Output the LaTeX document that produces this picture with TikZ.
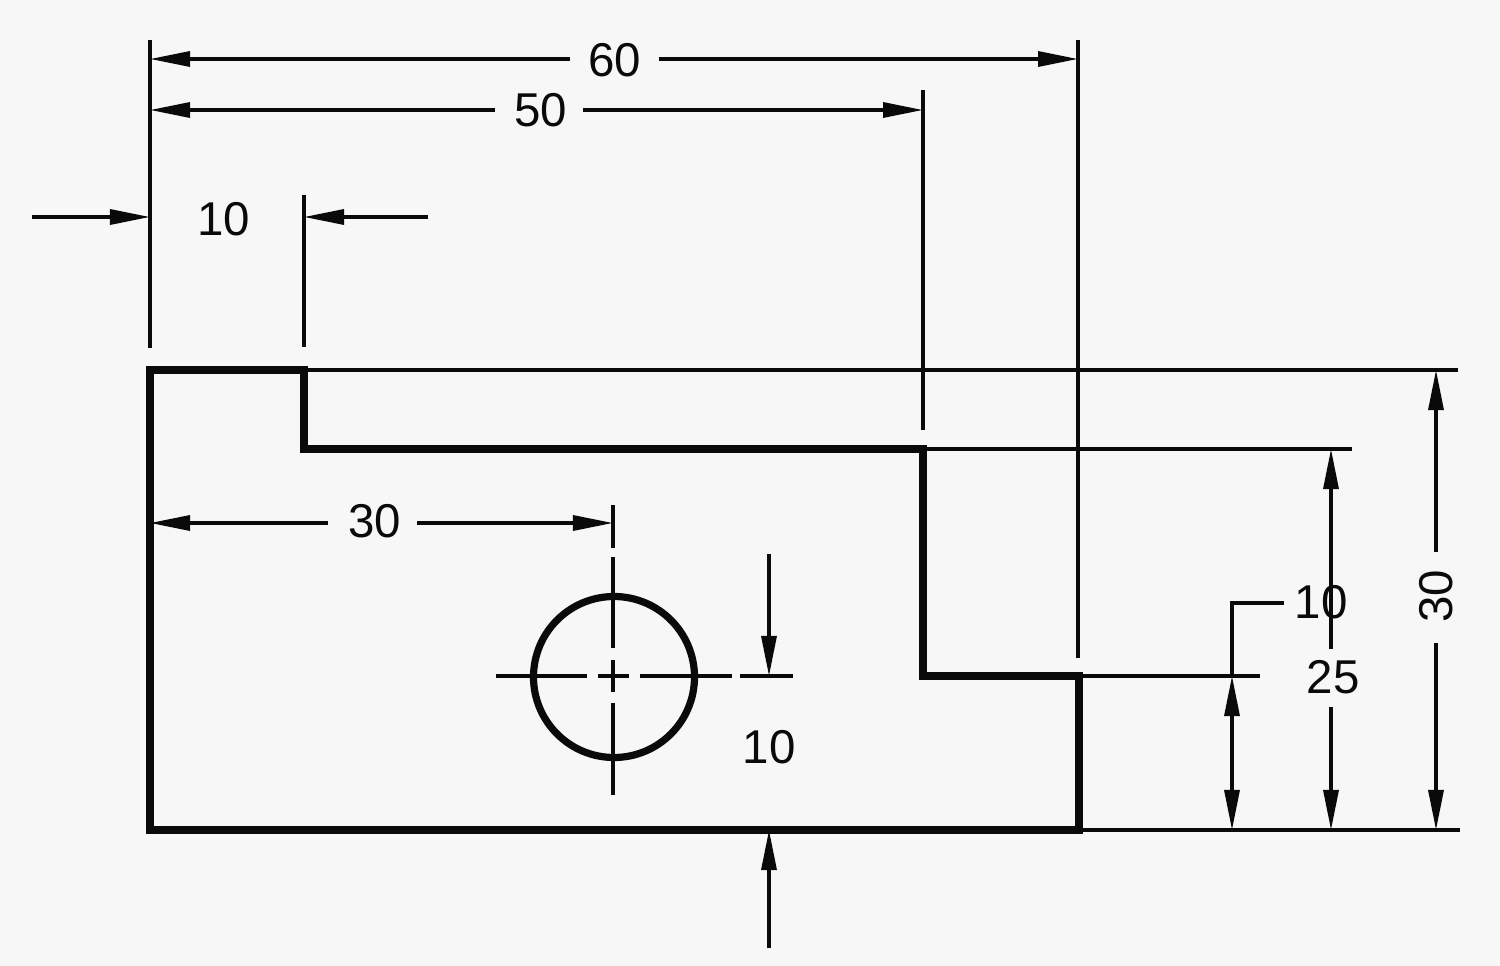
\documentclass[tikz,border=0pt]{standalone}
\usepackage{fontspec}
\setmainfont{Liberation Sans}
\usetikzlibrary{arrows.meta}
\definecolor{bgc}{RGB}{247,247,247}
\definecolor{ink}{RGB}{10,10,10}
\tikzset{
 x=0.04cm,y=-0.04cm,
 thin line/.style={draw=ink,line width=3.7pt},
 thick line/.style={draw=ink,line width=8.2pt,line cap=butt,line join=miter},
 dimarrow/.style={thin line,-{Triangle[length=1.6cm,width=0.6cm]}},
 dim/.style={thin line,{Triangle[length=1.6cm,width=0.6cm]}-{Triangle[length=1.6cm,width=0.6cm]}},
 lbl/.style={font=\fontsize{54pt}{54pt}\selectfont,text=ink,inner sep=0pt},
}
\begin{document}
\begin{tikzpicture}
\path[use as bounding box,fill=bgc] (0,0) rectangle (1500,966);
% outline
\draw[thick line] (150,830) -- (150,370) -- (304,370) -- (304,449) -- (923,449) -- (923,676) -- (1079,676) -- (1079,830) -- cycle;
\draw[thick line] (614,677) circle (80.5);
% extension lines
\draw[thin line] (150,40) -- (150,348);
\draw[thin line] (304,195) -- (304,347);
\draw[thin line] (923,90) -- (923,430);
\draw[thin line] (1078,40) -- (1078,658);
\draw[thin line] (304,370) -- (1458,370);
\draw[thin line] (923,449) -- (1352,449);
\draw[thin line] (1079,676) -- (1260,676);
\draw[thin line] (1079,830) -- (1460,830);
% labels
\node[lbl] (n60) at (615,60) {60};
\node[lbl] (n50) at (541,110) {50};
\node[lbl] (n10a) at (224,219) {10};
\node[lbl] (n30a) at (375,521) {30};
\node[lbl] (n10b) at (769,747) {10};
\node[lbl] (n10c) at (1321,602) {10};
\node[lbl] (n25) at (1333,677) {25};
\node[lbl,rotate=90] (n30b) at (1436,596) {30};
% horizontal dims
\coordinate (a60l) at (150,59); \coordinate (a60r) at (1078,59);
\draw[dimarrow] (570,59) -- (a60l);
\draw[dimarrow] (659,59) -- (a60r);
\coordinate (a50l) at (150,110); \coordinate (a50r) at (923,110);
\draw[dimarrow] (495,110) -- (a50l);
\draw[dimarrow] (583,110) -- (a50r);
\coordinate (a30l) at (150,523); \coordinate (a30r) at (613,523);
\draw[dimarrow] (328,523) -- (a30l);
\draw[dimarrow] (417,523) -- (a30r);
\coordinate (s1) at (32,217); \coordinate (e1) at (150,217);
\coordinate (s2) at (428,217); \coordinate (e2) at (304,217);
\draw[dimarrow] (s1) -- (e1);
\draw[dimarrow] (s2) -- (e2);
% vertical dims
\coordinate (v1s) at (769,554); \coordinate (v1e) at (769,676);
\coordinate (v2s) at (769,948); \coordinate (v2e) at (769,830);
\draw[dimarrow] (v1s) -- (v1e);
\draw[dimarrow] (v2s) -- (v2e);
\draw[thin line] (740,676) -- (793,676);
% 30 right
\coordinate (r30t) at (1436,370); \coordinate (r30b) at (1436,830);
\draw[dimarrow] (1436,552) -- (r30t);
\draw[dimarrow] (1436,643) -- (r30b);
% 25
\coordinate (r25t) at (1331,449); \coordinate (r25b) at (1331,830);
\draw[dimarrow] (1331,649) -- (r25t);
\draw[dimarrow] (1331,707) -- (r25b);
% 10 leader
\coordinate (l1) at (1284,603); \coordinate (l2) at (1232,603);
\coordinate (r10t) at (1232,676); \coordinate (r10b) at (1232,830);
\draw[thin line] (l1) -- (l2) -- (1232,676);
\draw[dim] (r10t) -- (r10b);
% centre lines
\draw[thin line] (496,676) -- (587,676);
\draw[thin line] (598,676) -- (629,676);
\draw[thin line] (640,676) -- (732,676);
\draw[thin line] (613,505) -- (613,548);
\draw[thin line] (613,557) -- (613,648);
\draw[thin line] (613,660) -- (613,692);
\draw[thin line] (613,703) -- (613,795);
\end{tikzpicture}
\end{document}
